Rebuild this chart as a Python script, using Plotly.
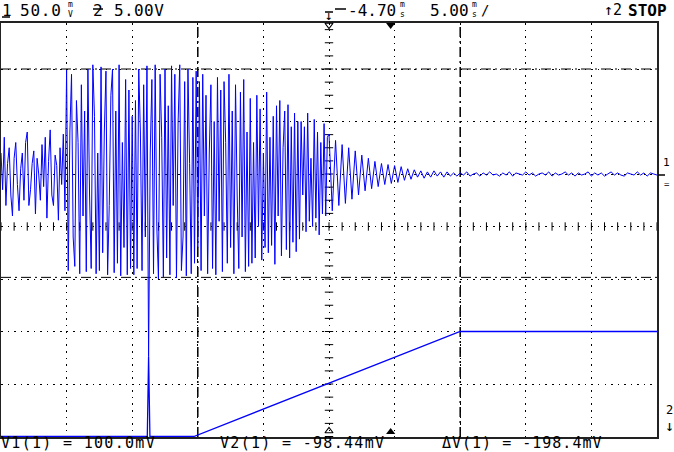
import numpy as np
import plotly.graph_objects as go

# ---------------- data (read from the screen) ----------------
# channel 1 record, burst part (fine time base), values in mV
ch1_burst_t0_ms = -29.7
ch1_burst_dt_ms = 0.125
ch1_burst_mv = [
    20, -15, 35, -30, 10, 25, -20, -40, 15, 30, -10, -35, 5, 20, -25, 30, 40, -30, -15, 10,
    22, -38, 15, 0, -25, 28, -12, 35, -42, 12, 42, -20, -30, 18, 8, -44, 25, -10, 38, -35,
    99, -92, 40, 95, -60, -88, 70, 30, -95, 85, -40, 60, -93, 100, -20, -90, 104, 55, -95, 20,
    -92, 102, -75, 40, 98, -96, -30, 75, 100, -94, 60, -85, 104, -97, 30, -70, 90, -96, 80, -90,
    55, -96, 70, -90, 100, 40, -92, 85, -60, 103, -174, 20, 90, -95, 104, -50, -100, 95, 35, -98,
    100, -80, 65, -96, 103, -30, 95, -99, 50, 104, -92, -60, 88, -97, 100, 10, -95, 92, -85, 98,
    -70, 88,
    -92, 95, -40, 75, -95, 20, 85, -90, 50, -96, 92, -45, 80, -93, 88, 30, -85, 95, -70, 60,
    -95, 85, -20, -90, 78, -60, 90, -93, 40, -88,
    72, -85, 30, -80, 75, -50, 62, -82, 20, -70, 78, -75, 35, -68, 55, -86, 65, -40, 70, -78,
    25, 60, -72, 66, -80, 45, -65, 58, -74, 50,
    -62, 50, -20, 45, -55, 58, -45, 15, -50, 52, -42, 40, -58, 30, -38, 48, -40, 35,
]
# channel 1 record, decay / settled part (coarser time base), values in mV
ch1_tail_t0_ms = -4.7
ch1_tail_dt_ms = 0.25
ch1_tail_mv = [
    38, -35, 32, -30, 28, -28, 25, -24, 22, -20,
    18, -16, 15, -14, 12, -12, 10, -10, 9,
    -9, 8, -8, 7, -6, 5,
    -5, 4, -3, 3, -4, 2, -3, 3, -2, 2, -3, 2, -2, 1, -2,
    1, -1, 2, -2, 0, 1, -2, 1, -1, 2,
    -1, 0, -2, 1, -1, 2, -2, 1, 0, -1,
    2, -1, 1, -2, 0, 1, -1, 2, -2, 1,
    -1, 0, 2, -1, 1, -2, 1, -1, 0, 2,
    -2, 1, -1, 1, -2, 0, 2, -1, 1, -1,
    -2, 1, 0, -1, 2, -1, 1, -2, 1, 0,
    -1,
]
# channel 2 vertices (ms, V)
ch2_t_ms = [-29.7, -18.55, -18.45, -18.35, -15.0, 5.3, 20.3]
ch2_v = [0.0, 0.0, 7.6, 0.0, 0.0, 10.0, 10.0]

# scope settings / cursor readouts
ch1_mv_per_div = 50.0
ch2_v_per_div = 5.0
time_per_div_ms = 5.0
delay_ms = -4.70
ch1_ground_div = 1.0      # ch1 ground one division above centre
ch2_ground_div = -4.0     # ch2 ground at bottom edge
v1_mv = 100.0
v2_mv = -98.44
dv_mv = v2_mv - v1_mv
t_start_ms = -14.7
t_stop_ms = 5.3

# ---------------- geometry ----------------
W, H = 674, 452
L, R, T, B = 1, 657, 23, 437
div_px_x = (R - L) / 10.0
div_px_y = 52.5
center_py = 226.5

x_lo = delay_ms - 5 * time_per_div_ms
x_hi = delay_ms + 5 * time_per_div_ms
top_div = (center_py - T) / div_px_y
bot_div = -(B - center_py) / div_px_y
y1_lo = (bot_div - ch1_ground_div) * ch1_mv_per_div
y1_hi = (top_div - ch1_ground_div) * ch1_mv_per_div
y2_lo = (bot_div - ch2_ground_div) * ch2_v_per_div
y2_hi = (top_div - ch2_ground_div) * ch2_v_per_div
center_mv = -ch1_ground_div * ch1_mv_per_div


def PX(x):
    return (x - L) / (R - L)


def PY(y):
    return (B - y) / (B - T)


def mv_at(py):
    return ((center_py - py) / div_px_y - ch1_ground_div) * ch1_mv_per_div


def t_at(px):
    return x_lo + (px - L) / div_px_x * time_per_div_ms


BLUE = '#0000ff'
FONT = 'DejaVu Sans Mono'

fig = go.Figure()

# centre graticule ticks
h_ticks = np.arange(x_lo, x_hi + 1e-9, time_per_div_ms / 5)
fig.add_trace(go.Scatter(x=h_ticks, y=[center_mv] * len(h_ticks), mode='markers',
                         marker=dict(symbol='line-ns-open', size=6, color='black',
                                     line=dict(color='black', width=1)),
                         hoverinfo='skip'))
step_mv = ch1_mv_per_div / 4
k_lo = int(np.ceil((y1_lo - center_mv) / step_mv))
k_hi = int(np.floor((y1_hi - center_mv) / step_mv))
v_ticks = center_mv + step_mv * np.arange(k_lo, k_hi + 1)
fig.add_trace(go.Scatter(x=[delay_ms] * len(v_ticks), y=v_ticks, mode='markers',
                         marker=dict(symbol='line-ew-open', size=6, color='black',
                                     line=dict(color='black', width=1)),
                         hoverinfo='skip'))

# traces
t_burst = ch1_burst_t0_ms + ch1_burst_dt_ms * np.arange(len(ch1_burst_mv))
t_tail = ch1_tail_t0_ms + ch1_tail_dt_ms * np.arange(len(ch1_tail_mv))
t1 = np.concatenate([t_burst, t_tail])
v1 = list(ch1_burst_mv) + list(ch1_tail_mv)
fig.add_trace(go.Scatter(x=t1, y=v1, mode='lines', line=dict(color=BLUE, width=1, simplify=False),
                         hoverinfo='skip'))
fig.add_trace(go.Scatter(x=ch2_t_ms, y=ch2_v, mode='lines', yaxis='y2',
                         line=dict(color=BLUE, width=1.3, simplify=False), hoverinfo='skip'))

# time reference / trigger markers
fig.add_trace(go.Scatter(x=[delay_ms], y=[mv_at(25)], mode='markers', cliponaxis=False,
                         marker=dict(symbol='triangle-down-open', size=7, color='black', line=dict(width=1.2)),
                         hoverinfo='skip'))
fig.add_trace(go.Scatter(x=[0.0], y=[mv_at(25)], mode='markers', cliponaxis=False,
                         marker=dict(symbol='triangle-down', size=8, color='black', line=dict(width=0)),
                         hoverinfo='skip'))
fig.add_trace(go.Scatter(x=[delay_ms], y=[mv_at(431)], mode='markers', cliponaxis=False,
                         marker=dict(symbol='triangle-up-open', size=7, color='black', line=dict(width=1.2)),
                         hoverinfo='skip'))
fig.add_trace(go.Scatter(x=[0.0], y=[mv_at(432)], mode='markers', cliponaxis=False,
                         marker=dict(symbol='triangle-up', size=8, color='black', line=dict(width=0)),
                         hoverinfo='skip'))
# ch1 ground marker on right edge
fig.add_trace(go.Scatter(x=[t_at(661)], y=[0.0], mode='markers', cliponaxis=False,
                         marker=dict(symbol='triangle-left', size=7, color='black', line=dict(width=0)),
                         hoverinfo='skip'))

CURSOR_DASH = '10px,4px,2px,4px'
shapes = [
    dict(type='line', xref='paper', yref='y', x0=0, x1=1, y0=v1_mv, y1=v1_mv,
         line=dict(color='black', width=1, dash=CURSOR_DASH), layer='below'),
    dict(type='line', xref='paper', yref='y', x0=0, x1=1, y0=v2_mv, y1=v2_mv,
         line=dict(color='black', width=1, dash=CURSOR_DASH), layer='below'),
    dict(type='line', xref='x', yref='paper', x0=t_start_ms, x1=t_start_ms, y0=0, y1=1,
         line=dict(color='black', width=1.5, dash=CURSOR_DASH), layer='below'),
    dict(type='line', xref='x', yref='paper', x0=t_stop_ms, x1=t_stop_ms, y0=0, y1=1,
         line=dict(color='black', width=1.5, dash=CURSOR_DASH), layer='below'),
    # header decorations
    dict(type='line', xref='paper', yref='paper', x0=PX(2), x1=PX(10), y0=PY(17), y1=PY(17),
         line=dict(color='black', width=1.5)),
    dict(type='line', xref='paper', yref='paper', x0=PX(93), x1=PX(103), y0=PY(9), y1=PY(9),
         line=dict(color='black', width=1.5)),
    dict(type='line', xref='paper', yref='paper', x0=PX(325), x1=PX(333), y0=PY(12), y1=PY(12),
         line=dict(color='black', width=1.5)),
    dict(type='line', xref='paper', yref='paper', x0=PX(335), x1=PX(346), y0=PY(9), y1=PY(9),
         line=dict(color='black', width=1.5)),
    dict(type='line', xref='paper', yref='paper', x0=PX(658), x1=PX(665), y0=PY(175), y1=PY(175),
         line=dict(color='black', width=1.5)),
]


def ann(text, x, y, size=16, xanchor='left', spacing=None, family=FONT):
    if spacing:
        text = f'<span style="letter-spacing:{spacing}px">{text}</span>'
    return dict(text=text, x=PX(x), y=PY(y), xref='paper', yref='paper', showarrow=False,
                xanchor=xanchor, yanchor='middle', borderpad=0,
                font=dict(family=family, size=size, color='black'))


annotations = [
    ann('1', 1, 10),
    ann('50.0', 19, 10, spacing=0.8),
    ann('m<br>V', 70, 9, size=8, xanchor='center'),
    ann('2', 92, 10),
    ann('5.00V', 113, 10, spacing=0.4),
    ann('↓', 329, 16, size=13, xanchor='center'),
    ann(f'{delay_ms:.2f}', 347, 10),
    ann('m<br>s', 402, 9, size=8, xanchor='center'),
    ann(f'{time_per_div_ms:.2f}', 429, 10),
    ann('m<br>s', 474, 9, size=8, xanchor='center'),
    ann('/', 480, 10, size=14),
    ann('↑2', 603, 10, size=15),
    ann('<b>STOP</b>', 627, 10, size=16),
    ann(f'V1(1) = {v1_mv:.1f}mV', 0, 443, size=15, spacing=1.3),
    ann(f'V2(1) = {v2_mv:.2f}mV', 219, 443, size=15, spacing=1.3),
    ann(f'ΔV(1) = {dv_mv:.1f}mV', 441, 443, size=15, spacing=1.0),
    ann('1', 667, 163, size=11, xanchor='center'),
    ann('=', 667, 184, size=9, xanchor='center'),
    ann('2', 669, 410, size=12, xanchor='center'),
    ann('↓', 669, 426, size=15, xanchor='center'),
]

GRID_DASH = '1.5px,5.06px'
axis_common = dict(showgrid=True, gridcolor='black', gridwidth=1, griddash=GRID_DASH,
                   tickmode='linear', showticklabels=False, ticks='', zeroline=False,
                   showline=True, mirror=True, linecolor='#222', linewidth=2,
                   layer='below traces', fixedrange=True)

fig.update_layout(
    width=W, height=H,
    margin=dict(l=L, r=W - R, t=T, b=H - B, pad=0),
    paper_bgcolor='white', plot_bgcolor='white', showlegend=False,
    xaxis=dict(range=[x_lo, x_hi], dtick=time_per_div_ms, tick0=delay_ms, **axis_common),
    yaxis=dict(range=[y1_lo, y1_hi], dtick=ch1_mv_per_div, tick0=center_mv, **axis_common),
    yaxis2=dict(range=[y2_lo, y2_hi], overlaying='y', visible=False, fixedrange=True),
    shapes=shapes,
    annotations=annotations,
)

fig.write_html('out.html', config={'displayModeBar': False},
               post_script="document.body.style.margin='0px';document.body.style.overflow='hidden';")
